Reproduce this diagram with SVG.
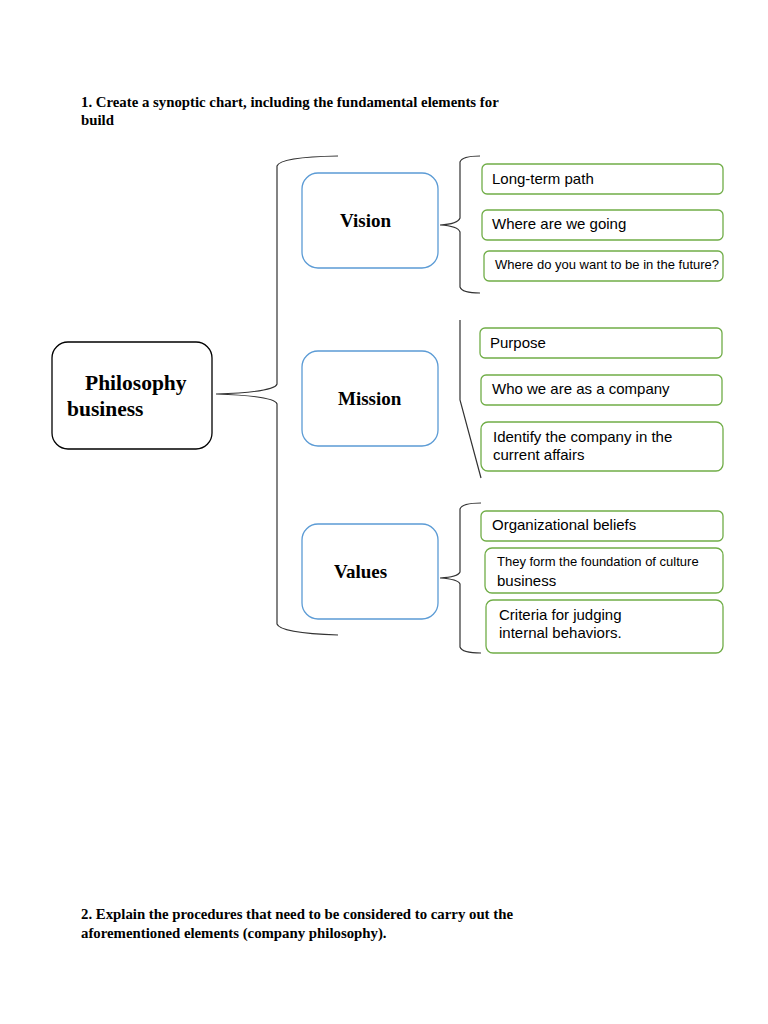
<svg xmlns="http://www.w3.org/2000/svg" width="768" height="1024" viewBox="0 0 768 1024">
<style>
.h{font-family:"Liberation Serif",serif;font-weight:bold;font-size:14.8px;fill:#000}
.m{font-family:"Liberation Serif",serif;font-weight:bold;font-size:19px;fill:#000}
.p{font-family:"Liberation Serif",serif;font-weight:bold;font-size:21.5px;fill:#000}
.t{font-family:"Liberation Sans",sans-serif;font-size:15px;fill:#000}
.s{font-family:"Liberation Sans",sans-serif;font-size:13px;fill:#000}
.b{fill:#fff;stroke:#5b9bd5;stroke-width:1.3}
.g{fill:#fff;stroke:#70ad47;stroke-width:1.3}
.br{fill:none;stroke:#333;stroke-width:1.2}
</style>
<rect width="768" height="1024" fill="#fff"/>
<text class="h" x="81" y="107">1. Create a synoptic chart, including the fundamental elements for</text>
<text class="h" x="81" y="125">build</text>
<text class="h" x="81" y="919">2. Explain the procedures that need to be considered to carry out the</text>
<text class="h" x="81" y="938">aforementioned elements (company philosophy).</text>
<g id="connectors">
<path class="br" d="M338,156 Q280,157 277,166 L277,384 Q275,392 216,394 Q275,396 277,404 L277,624 Q280,633 338,635"/>
<path class="br" d="M480,156 Q462,156 460,162 L460,218 Q458,224 440,225 Q458,226 460,232 L460,287 Q462,293 480,293"/>
<path class="br" d="M460,320 L460,400 L481,478"/>
<path class="br" d="M481,503 Q462,503 460,509 L460,572 Q458,577 440,578 Q458,579 460,584 L460,647 Q462,653 481,653"/>
</g>
<g id="philosophy"><rect x="52" y="342" width="160" height="107" rx="16" fill="#fff" stroke="#000" stroke-width="1.3"/>
<text class="p" x="85" y="390">Philosophy</text><text class="p" x="67" y="416">business</text></g>
<g id="vision"><rect class="b" x="302" y="173" width="136" height="95" rx="16"/><text class="m" x="340" y="227">Vision</text></g>
<g id="mission"><rect class="b" x="302" y="351" width="136" height="95" rx="16"/><text class="m" x="338" y="405">Mission</text></g>
<g id="values"><rect class="b" x="302" y="524" width="136" height="95" rx="16"/><text class="m" x="334" y="578">Values</text></g>
<g id="v1"><rect class="g" x="482" y="164" width="241" height="30" rx="5"/><text class="t" x="492" y="184">Long-term path</text></g>
<g id="v2"><rect class="g" x="482" y="210" width="241" height="30" rx="5"/><text class="t" x="492" y="229">Where are we going</text></g>
<g id="v3"><rect class="g" x="484" y="251" width="239" height="30" rx="5"/><text class="s" x="495" y="269">Where do you want to be in the future?</text></g>
<g id="m1"><rect class="g" x="480" y="328" width="242" height="30" rx="5"/><text class="t" x="490" y="348">Purpose</text></g>
<g id="m2"><rect class="g" x="481" y="375" width="241" height="30" rx="5"/><text class="t" x="492" y="394">Who we are as a company</text></g>
<g id="m3"><rect class="g" x="481" y="422" width="242" height="49" rx="7"/><text class="t" x="493" y="442">Identify the company in the</text><text class="t" x="493" y="460">current affairs</text></g>
<g id="a1"><rect class="g" x="481" y="511" width="242" height="30" rx="5"/><text class="t" x="492" y="530">Organizational beliefs</text></g>
<g id="a2"><rect class="g" x="485" y="548" width="238" height="45" rx="7"/><text class="s" x="497" y="566">They form the foundation of culture</text><text class="t" x="497" y="586">business</text></g>
<g id="a3"><rect class="g" x="486" y="600" width="237" height="53" rx="7"/><text class="t" x="499" y="620">Criteria for judging</text><text class="t" x="499" y="638">internal behaviors.</text></g>
</svg>
